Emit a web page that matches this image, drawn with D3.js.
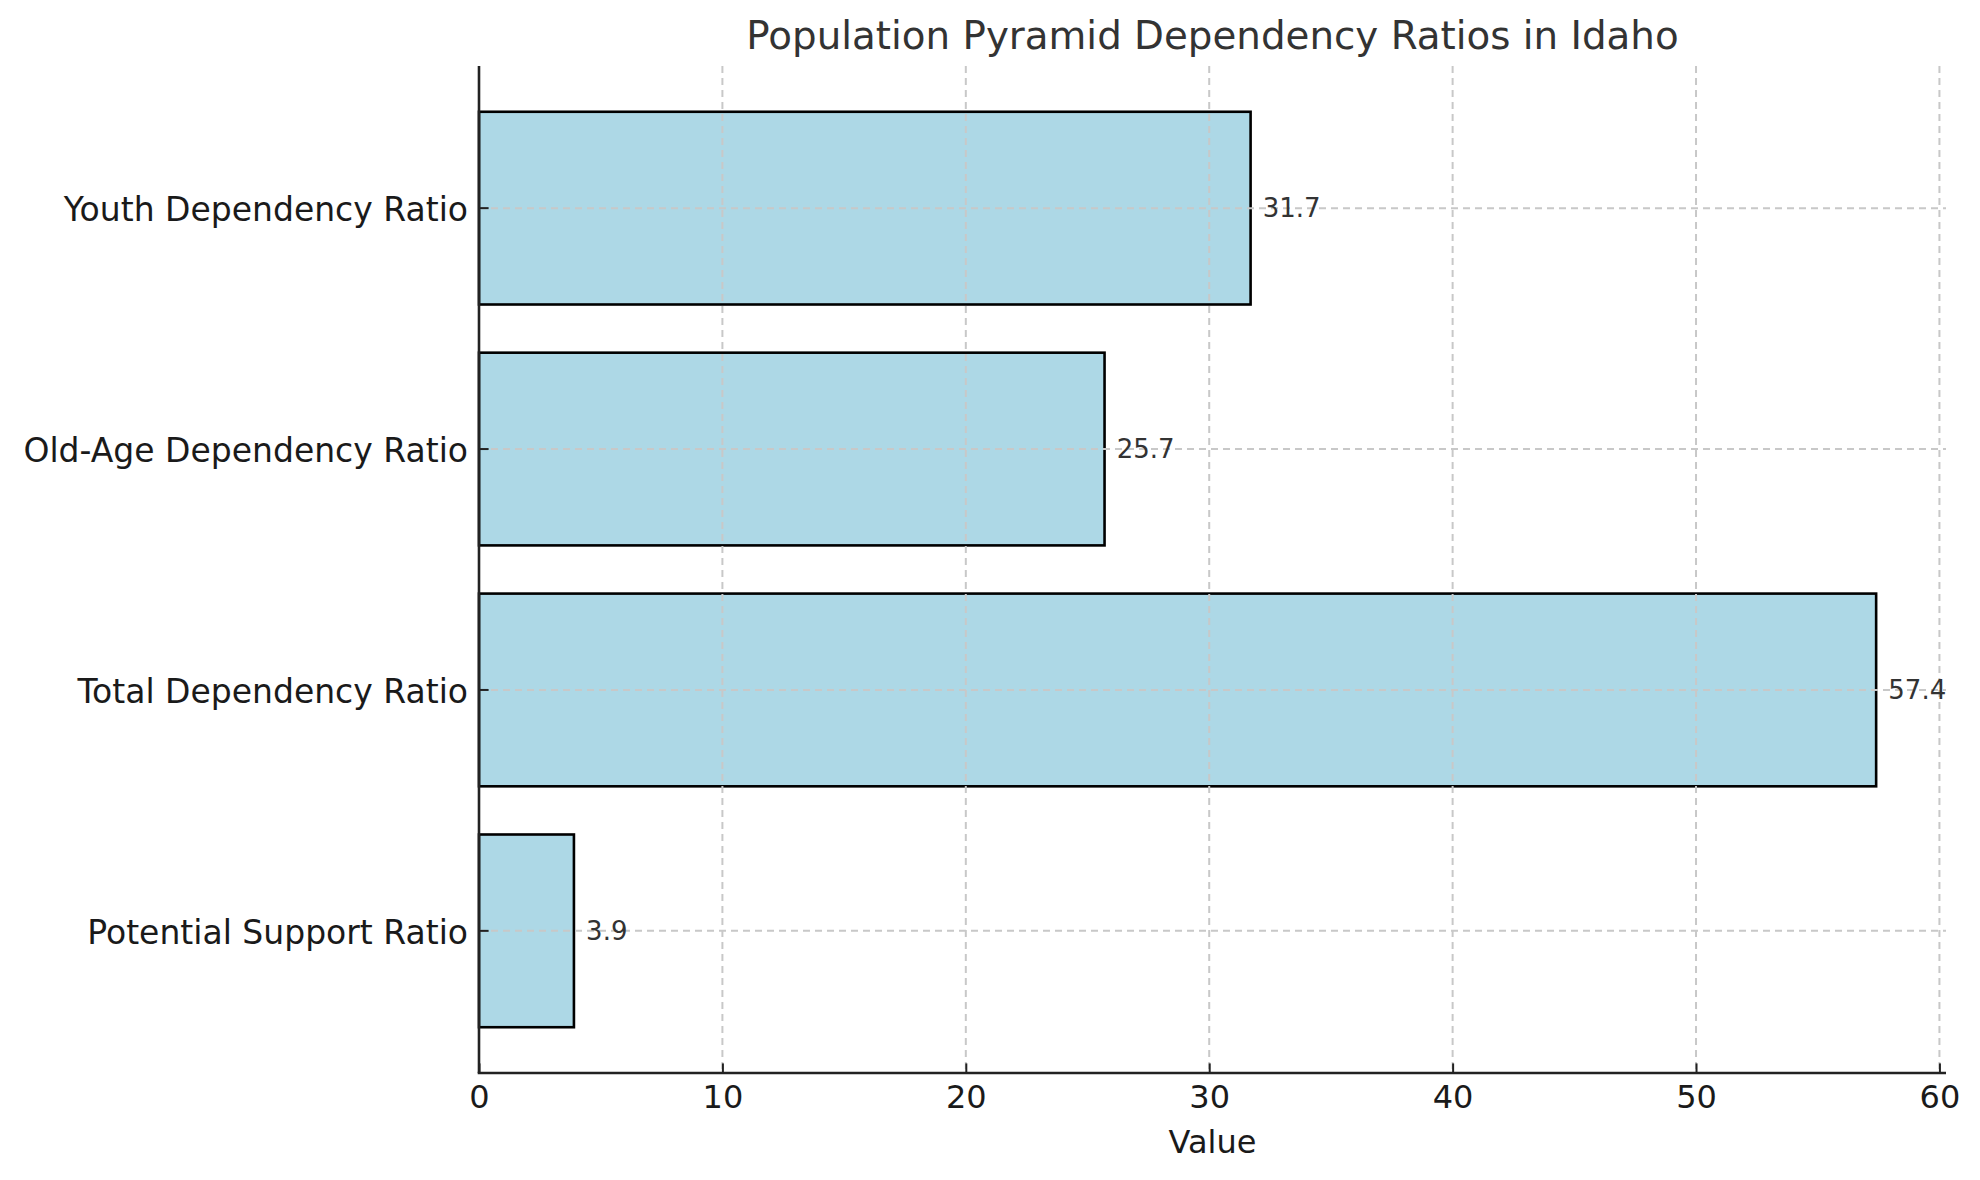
<!DOCTYPE html>
<meta charset="utf-8">
<head>
<style>
  body { margin: 0; background: #fff; }
  text { font-family: "DejaVu Sans", sans-serif; }
</style>
</head>

<!-- Load d3.js -->
<script src="https://d3js.org/d3.v7.min.js"></script>

<body>
  <div id="my_dataviz"></div>
</body>

<script>

  // data, top bar first
  var categories = ["Youth Dependency Ratio", "Old-Age Dependency Ratio", "Total Dependency Ratio", "Potential Support Ratio"];
  var values = [31.7, 25.7, 57.4, 3.9];
  var xTicks = [0, 10, 20, 30, 40, 50, 60];

  var data = categories.map(function (c, i) { return {name: c, value: values[i]}; });

  // plot area in pixels (not "top": that name is taken by window.top)
  var plotLeft = 479, plotRight = 1946, plotTop = 66, plotBottom = 1073;

  var svg = d3.select("#my_dataviz")
    .append("svg")
      .attr("width", 1980)
      .attr("height", 1180);

  // X axis (matplotlib-like 5% margin past the largest bar)
  var x = d3.scaleLinear()
    .domain([0, d3.max(values) * 1.05])
    .range([plotLeft, plotRight]);

  // Y axis: bars are 0.8 of a step, 0.19 step of margin at both ends
  var step = (plotBottom - plotTop) / 4.18;
  var y = d3.scaleBand()
    .domain(categories)
    .range([plotTop + 0.19 * step, plotBottom - 0.19 * step])
    .paddingInner(0.2)
    .paddingOuter(0);

  // bars
  svg.append("g")
    .selectAll("rect")
    .data(data)
    .enter()
    .append("rect")
      .attr("x", x(0))
      .attr("y", function (d) { return y(d.name); })
      .attr("width", function (d) { return x(d.value) - x(0); })
      .attr("height", y.bandwidth())
      .style("fill", "#add8e6")
      .style("stroke", "#000")
      .style("stroke-width", 2.6);

  // grid on top of bars
  var grid = svg.append("g")
    .style("stroke", "#c8c8c8")
    .style("stroke-width", 2)
    .style("stroke-dasharray", "7,5");

  grid.selectAll(".vgrid")
    .data(xTicks.slice(1))
    .enter()
    .append("line")
      .attr("x1", function (d) { return x(d); })
      .attr("x2", function (d) { return x(d); })
      .attr("y1", plotTop)
      .attr("y2", plotBottom);

  grid.selectAll(".hgrid")
    .data(categories)
    .enter()
    .append("line")
      .attr("x1", plotLeft)
      .attr("x2", plotRight)
      .attr("y1", function (d) { return y(d) + y.bandwidth() / 2; })
      .attr("y2", function (d) { return y(d) + y.bandwidth() / 2; });

  // bottom axis, ticks pointing inward
  var xAxis = svg.append("g")
    .attr("transform", "translate(0," + plotBottom + ")")
    .call(d3.axisBottom(x).tickValues(xTicks).tickSizeInner(-9.6).tickSizeOuter(0).tickPadding(12));
  xAxis.select(".domain").remove();
  xAxis.selectAll("line").style("stroke", "#222").style("stroke-width", 2);
  xAxis.selectAll("text")
    .style("font-size", "32px")
    .style("fill", "#1a1a1a")
    .attr("dy", "0.71em")
    .attr("y", 12);

  // left axis, ticks pointing inward
  var yAxis = svg.append("g")
    .attr("transform", "translate(" + plotLeft + ",0)")
    .call(d3.axisLeft(y).tickSizeInner(-9.6).tickSizeOuter(0).tickPadding(11));
  yAxis.select(".domain").remove();
  yAxis.selectAll("line").style("stroke", "#222").style("stroke-width", 2);
  yAxis.selectAll("text")
    .style("font-size", "33px")
    .style("fill", "#1a1a1a")
    .attr("x", -11)
    .attr("dy", "0.4em");

  // spines (left and bottom only)
  svg.append("line")
    .attr("x1", plotLeft).attr("x2", plotLeft)
    .attr("y1", plotTop).attr("y2", plotBottom)
    .style("stroke", "#222").style("stroke-width", 2.6);
  svg.append("line")
    .attr("x1", plotLeft - 1.3).attr("x2", plotRight)
    .attr("y1", plotBottom).attr("y2", plotBottom)
    .style("stroke", "#222").style("stroke-width", 2.6);

  // value labels
  svg.append("g")
    .selectAll("text")
    .data(data)
    .enter()
    .append("text")
      .attr("x", function (d) { return x(d.value + 0.5); })
      .attr("y", function (d) { return y(d.name) + y.bandwidth() / 2; })
      .attr("dy", "0.35em")
      .style("font-size", "26px")
      .style("fill", "#333")
      .text(function (d) { return d.value; });

  // title and x label
  svg.append("text")
    .attr("x", (plotLeft + plotRight) / 2)
    .attr("y", 49)
    .style("text-anchor", "middle")
    .style("font-size", "38.8px")
    .style("fill", "#333")
    .text("Population Pyramid Dependency Ratios in Idaho");

  svg.append("text")
    .attr("x", (plotLeft + plotRight) / 2)
    .attr("y", 1153)
    .style("text-anchor", "middle")
    .style("font-size", "32px")
    .style("fill", "#1a1a1a")
    .text("Value");

</script>
